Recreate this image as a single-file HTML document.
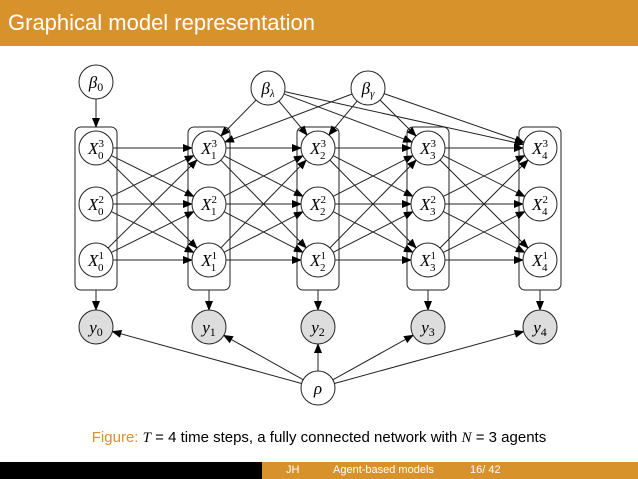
<!DOCTYPE html>
<html><head><style>
body{margin:0;width:638px;height:479px;background:#fff;overflow:hidden;font-family:"Liberation Sans",sans-serif;position:relative}
.t{position:absolute;left:0;top:0;width:638px;height:46px;background:#d8922c;color:#fff;font-size:22px;line-height:46px;padding-left:8px;box-sizing:border-box}
.cap{position:absolute;top:429px;left:0;width:638px;text-align:center;font-size:15px;color:#000}
.f{position:absolute;top:462px;height:17px;font-size:11px;line-height:17px}
</style></head><body>
<div class="t">Graphical model representation</div>
<svg width="638" height="479" style="position:absolute;left:0;top:0" font-family="Liberation Serif" font-style="italic">
<defs><marker id="a" markerWidth="10" markerHeight="8" refX="9" refY="4" orient="auto" markerUnits="userSpaceOnUse"><path d="M0,0L10,4L0,8z" fill="#000"/></marker></defs>
<g stroke="#222" stroke-width="1" fill="none" id="g"></g>
</svg>
<div class="cap"><span style="color:#d8922c">Figure:</span> <i style="font-family:'Liberation Serif'">T</i> = 4 time steps, a fully connected network with <i style="font-family:'Liberation Serif'">N</i> = 3 agents</div>
<div class="f" style="left:0;width:262px;background:#000"></div>
<div class="f" style="left:262px;width:376px;background:#d8922c"></div>
<div class="f" style="left:286px;color:#fff">JH</div>
<div class="f" style="left:333px;color:#fff">Agent-based models</div>
<div class="f" style="left:470px;color:#fff">16/ 42</div>
<script>
var xs=[96,209,318,428,540],ys=[148,204,260],R=17,s='';
function ln(x1,y1,x2,y2,r1,r2){var dx=x2-x1,dy=y2-y1,d=Math.hypot(dx,dy);s+='<line x1="'+(x1+dx/d*r1)+'" y1="'+(y1+dy/d*r1)+'" x2="'+(x2-dx/d*r2)+'" y2="'+(y2-dy/d*r2)+'" marker-end="url(#a)"/>';}
function c(x,y,t,fill){s+='<circle cx="'+x+'" cy="'+y+'" r="'+R+'" fill="'+(fill||'#fff')+'"/><text x="'+x+'" y="'+(y+6)+'" text-anchor="middle" font-size="17" fill="#000" stroke="none">'+t+'</text>';}
xs.forEach(function(x,t){
 s+='<rect x="'+(x-21)+'" y="127" width="42" height="163" rx="6" fill="#fff"/>';
 ln(x,290,x,310,0,0);
 ln(318,388,x,327,R,R);
});
ln(96,99,96,127,0,0);
for(var t=0;t<4;t++)for(var i=0;i<3;i++)for(var j=0;j<3;j++)ln(xs[t],ys[i],xs[t+1],ys[j],R,R);
for(var t=1;t<5;t++){ln(268,88,xs[t],148,R,R);ln(368,88,xs[t],148,R,R);}
xs.forEach(function(x,t){
 var sup=['3','2','1'];
 ys.forEach(function(y,i){c(x,y,'X<tspan font-size="11" dy="-7" font-style="normal">'+sup[i]+'</tspan><tspan font-size="11" dx="-6" dy="12" font-style="normal">'+t+'</tspan>');});
 c(x,327,'y<tspan font-size="12" dy="3" font-style="normal">'+t+'</tspan>','#ddd');
});
c(96,82,'β<tspan font-size="12" dy="3" font-style="normal">0</tspan>');
c(268,88,'β<tspan font-size="11" dy="3">λ</tspan>');
c(368,88,'β<tspan font-size="11" dy="3">γ</tspan>');
c(318,388,'ρ');
document.getElementById('g').innerHTML=s;
</script>
</body></html>
